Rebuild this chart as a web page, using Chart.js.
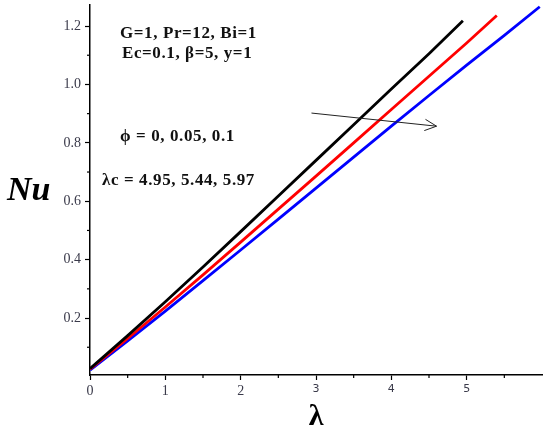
<!DOCTYPE html>
<html>
<head>
<meta charset="utf-8">
<script src="https://cdn.jsdelivr.net/npm/chart.js@4.4.1/dist/chart.umd.min.js"></script>
<style>
  html, body { margin: 0; padding: 0; background: #fff; }
  #wrap { width: 550px; height: 435px; position: relative; }
</style>
</head>
<body>
<div id="wrap"><canvas id="myChart"></canvas></div>
<script>
// lambda values and Nu, one list per curve
const lambda_black = [0, 0.5, 1, 1.5, 2, 2.5, 3, 3.5, 4, 4.5, 4.95];
const nu_black     = [0.027, 0.14, 0.256, 0.375, 0.496, 0.618, 0.74, 0.862, 0.984, 1.105, 1.218];

const lambda_red = [0, 0.5, 1, 1.5, 2, 2.5, 3, 3.5, 4, 4.5, 5, 5.4];
const nu_red     = [0.025, 0.13, 0.238, 0.348, 0.46, 0.573, 0.686, 0.8, 0.914, 1.028, 1.142, 1.236];

const lambda_blue = [0, 0.5, 1, 1.5, 2, 2.5, 3, 3.5, 4, 4.5, 5, 5.5, 5.97];
const nu_blue     = [0.022, 0.122, 0.224, 0.328, 0.433, 0.539, 0.645, 0.751, 0.857, 0.962, 1.066, 1.168, 1.266];

const x_ticks = [0, 1, 2, 3, 4, 5];
const x_minor = [0.5, 1.5, 2.5, 3.5, 4.5, 5.5];
const y_ticks = [0.2, 0.4, 0.6, 0.8, 1.0, 1.2];
const y_minor = [0.1, 0.3, 0.5, 0.7, 0.9, 1.1];

// arrow across the curves (data coords: start, end)
const arrow_lambda = [2.94, 4.6];
const arrow_nu = [0.902, 0.857];

const notes = [
    "G=1, Pr=12, Bi=1",
    "Ec=0.1, β=5, y=1",
    "ϕ = 0, 0.05, 0.1",
    "λc = 4.95, 5.44, 5.97",
];

const SERIF = '"Liberation Serif", "Times New Roman", serif';

function toPoints(xs, ys) {
    return xs.map((x, i) => ({ x: x, y: ys[i] }));
}

// minor ticks, arrow and text notes
const extrasPlugin = {
    id: 'extras',
    afterDraw(chart) {
        const ctx = chart.ctx;
        const xs = chart.scales.x, ys = chart.scales.y;
        const area = chart.chartArea;
        ctx.save();
        ctx.strokeStyle = '#000';
        ctx.lineWidth = 1.2;
        x_minor.forEach(v => {
            const px = xs.getPixelForValue(v);
            ctx.beginPath();
            ctx.moveTo(px, area.bottom);
            ctx.lineTo(px, area.bottom + 3);
            ctx.stroke();
        });
        y_minor.forEach(v => {
            const py = ys.getPixelForValue(v);
            ctx.beginPath();
            ctx.moveTo(area.left, py);
            ctx.lineTo(area.left - 3, py);
            ctx.stroke();
        });

        // arrow
        const ax0 = xs.getPixelForValue(arrow_lambda[0]), ay0 = ys.getPixelForValue(arrow_nu[0]);
        const ax1 = xs.getPixelForValue(arrow_lambda[1]), ay1 = ys.getPixelForValue(arrow_nu[1]);
        ctx.strokeStyle = '#222';
        ctx.lineWidth = 1;
        ctx.beginPath();
        ctx.moveTo(ax0, ay0);
        ctx.lineTo(ax1, ay1);
        const ang = Math.atan2(ay1 - ay0, ax1 - ax0);
        ctx.moveTo(ax1 - 13 * Math.cos(ang - 0.45), ay1 - 13 * Math.sin(ang - 0.45));
        ctx.lineTo(ax1, ay1);
        ctx.lineTo(ax1 - 13 * Math.cos(ang + 0.45), ay1 - 13 * Math.sin(ang + 0.45));
        ctx.stroke();

        // notes
        ctx.fillStyle = '#111';
        ctx.textBaseline = 'middle';
        ctx.textAlign = 'left';
        ctx.font = 'bold 17px ' + SERIF;
        ctx.letterSpacing = '0.6px';
        ctx.fillText(notes[0], 120, 34);
        ctx.fillText(notes[1], 122, 54);
        ctx.fillText(notes[2], 120, 137);
        ctx.fillText(notes[3], 102, 181);
        ctx.letterSpacing = '0px';

        // axis titles
        ctx.fillStyle = '#000';
        ctx.font = 'italic bold 34px ' + SERIF;
        ctx.fillText('Nu', 7, 191);
        ctx.textAlign = 'center';
        ctx.font = 'bold 30px ' + SERIF;
        ctx.fillText('λ', (area.left + area.right) / 2, 417);
        ctx.restore();
    }
};

const ctx = document.getElementById('myChart').getContext('2d');
const chart = new Chart(ctx, {
    type: 'line',
    data: {
        datasets: [
            { label: 'phi=0', data: toPoints(lambda_black, nu_black), borderColor: '#000000' },
            { label: 'phi=0.05', data: toPoints(lambda_red, nu_red), borderColor: '#ff0000' },
            { label: 'phi=0.1', data: toPoints(lambda_blue, nu_blue), borderColor: '#0000ff' },
        ],
    },
    options: {
        responsive: true,
        maintainAspectRatio: false,
        animation: false,
        devicePixelRatio: 1,
        layout: { padding: { left: 0, top: 5, right: 8, bottom: 0 } },
        elements: {
            point: { radius: 0 },
            line: { borderWidth: 2.8, tension: 0, fill: false },
        },
        plugins: {
            legend: { display: false },
            tooltip: { enabled: false },
        },
        scales: {
            x: {
                type: 'linear',
                min: 0,
                max: 6,
                afterBuildTicks: (scale) => { scale.ticks = x_ticks.map(v => ({ value: v })); },
                afterFit: (scale) => {
                    scale.height = 60;
                    scale.paddingLeft = 0;
                    scale.paddingRight = 0;
                },
                border: { display: true, color: '#000', width: 1.5 },
                grid: { drawOnChartArea: false, drawTicks: true, tickLength: 5, tickColor: '#000', tickWidth: 1.2 },
                ticks: {
                    color: '#3a3a4a',
                    padding: 3,
                    maxRotation: 0,
                    font: (c) => (c.tick && c.tick.value >= 3)
                        ? { family: '"DejaVu Sans", sans-serif', size: 11 }
                        : { family: SERIF, size: 14 },
                    callback: (v) => String(v),
                },
            },
            y: {
                type: 'linear',
                min: 0.005,
                max: 1.272,
                afterBuildTicks: (scale) => { scale.ticks = y_ticks.map(v => ({ value: v })); },
                afterFit: (scale) => {
                    scale.width = 90;
                    scale.paddingTop = 0;
                    scale.paddingBottom = 0;
                },
                border: { display: true, color: '#000', width: 1.5 },
                grid: { drawOnChartArea: false, drawTicks: true, tickLength: 5, tickColor: '#000', tickWidth: 1.2 },
                ticks: {
                    color: '#3a3a4a',
                    padding: 4,
                    font: { family: SERIF, size: 14 },
                    callback: (v) => Number(v).toFixed(1),
                },
            },
        },
    },
    plugins: [extrasPlugin],
});
</script>
</body>
</html>
